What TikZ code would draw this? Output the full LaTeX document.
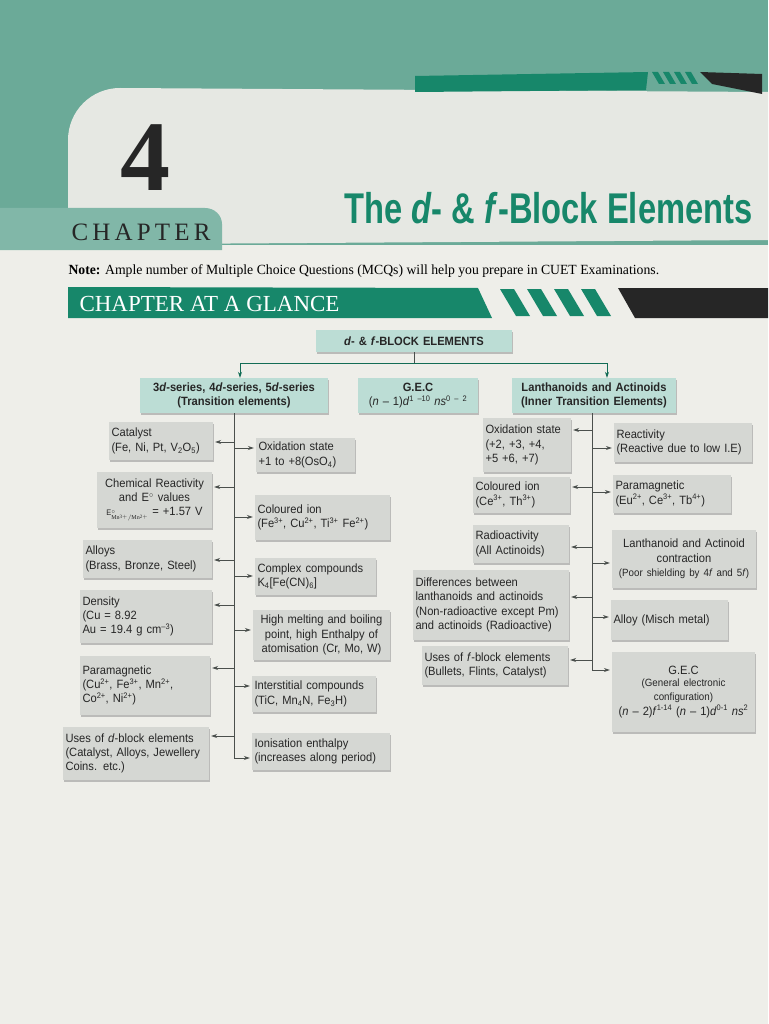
\documentclass[tikz,border=0pt]{standalone}
\usepackage{fontspec}
\setmainfont{Liberation Serif}
\newfontfamily\sff[FakeStretch=0.93,Ligatures=TeX]{Liberation Sans}
\newfontfamily\sfn[Ligatures=TeX]{Liberation Sans}
\usetikzlibrary{arrows.meta,shadows}
\definecolor{teal1}{HTML}{6BAA98}
\definecolor{pagec}{HTML}{EEEEE9}
\definecolor{panel}{HTML}{E6E8E3}
\definecolor{dgreen}{HTML}{17876A}
\definecolor{boxc}{HTML}{D5D7D3}
\definecolor{hboxc}{HTML}{BCDDD5}
\definecolor{linec}{HTML}{4A4F4C}
\tikzset{
 box/.style={fill=boxc,inner sep=2pt,font=\sff\fontsize{12}{14.3}\selectfont,text=black!85,
   drop shadow={shadow xshift=0.8pt,shadow yshift=-1.6pt,fill=black!40,opacity=0.6}},
 hbox/.style={box,fill=hboxc,font=\sff\bfseries\fontsize{12}{14}\selectfont},
 arr/.style={draw=linec,line width=0.7pt,-{Stealth[length=6pt,width=4pt]},shorten >=2pt},
 ln/.style={draw=linec,line width=0.7pt},
 tarr/.style={draw=dgreen!80!black,line width=0.8pt,-{Stealth[length=6pt,width=4pt]}}
}
\newcommand\bx[7][align=left]{\node[#6,#1,minimum width={(#4-#2)*1pt},minimum height={(#5-#3)*1pt},text width={(#4-#2-5)*1pt}] (#7) at ({(#2+#4)/2},{(#3+#5)/2})}
\begin{document}
\begin{tikzpicture}[x=1pt,y=-1pt]
\useasboundingbox (0,0) rectangle (768,1024);
\fill[pagec] (0,0) rectangle (768,1024);
% header
\fill[teal1] (0,0) rectangle (768,245);
\fill[panel] (120,88) -- (768,92) -- (768,240) -- (0,245) -- (0,210) -- (68,210) -- (68,140) to[out=90,in=180] (120,88) -- cycle;
\fill[teal1!85!white] (0,208) -- (205,208) to[out=0,in=90] (222,224) -- (222,250) -- (0,250) -- cycle;
\fill[dgreen] (415,76) -- (648,72) -- (646,90) -- (415,92) -- cycle;
\foreach \i in {0,1,2,3}{\fill[dgreen] ({652+\i*11},72) -- ({658+\i*11},72) -- ({665+\i*11},84) -- ({659+\i*11},84) -- cycle;}
\fill[black!85] (700,72) -- (762,74) -- (762,94) -- (712,84) -- cycle;
\node[font=\fontsize{100}{100}\selectfont\bfseries,text=black!85] (four) at (145,158) {4};
\node[font=\fontsize{25}{25}\selectfont,text=black!85,anchor=west] (chap) at (68,232) {C\,H\,A\,P\,T\,E\,R};
\node[font=\sfn\bfseries\fontsize{43}{43}\selectfont,text=dgreen,anchor=east] (title) at (756,208) {\scalebox{0.76}[1]{The \textit{d}- \& \textit{f}-Block Elements}};
\node[font=\fontsize{14}{16}\selectfont,anchor=west] (note) at (65,271) {\scalebox{0.98}[1]{\textbf{Note:} Ample number of Multiple Choice Questions (MCQs) will help you prepare in CUET Examinations.}};
\fill[dgreen] (68,287) -- (478,288) -- (492,318) -- (68,318) -- cycle;
\foreach \i in {0,1,2,3}{\fill[dgreen] ({500+\i*27},289) -- ({514+\i*27},289) -- ({530+\i*27},316) -- ({516+\i*27},316) -- cycle;}
\fill[black!85] (618,288) -- (768,288) -- (768,318) -- (635,318) -- cycle;
\node[font=\fontsize{23}{23}\selectfont,text=white,anchor=west] (glance) at (76,304) {CHAPTER AT A GLANCE};
% diagram
\bx[align=center]{316}{330}{512}{352}{hbox}{root} {\textit{d}- \& \textit{f}-BLOCK ELEMENTS};
\bx[align=center]{140}{378}{328}{413}{hbox}{td} {3\textit{d}-series, 4\textit{d}-series, 5\textit{d}-series\\(Transition elements)};
\bx[align=center]{358}{378}{478}{413}{hbox}{gec} {G.E.C\\{\mdseries(\textit{n} \textendash{} 1)\textit{d}\textsuperscript{1 \textendash10} \textit{ns}\textsuperscript{0 \textendash{} 2}}};
\bx[align=center]{512}{378}{676}{413}{hbox}{la} {Lanthanoids and Actinoids\\(Inner Transition Elements)};
\coordinate (rj) at (414,363);
\coordinate (lj) at (240,363);
\coordinate (rrj) at (607,363);
\draw[ln] (root.south -| rj) -- (rj);
\draw[ln,draw=dgreen!80!black] (lj) -- (rrj);
\draw[tarr] (lj) -- (td.north -| lj);
\draw[tarr] (rrj) -- (la.north -| rrj);
% left trunk
\coordinate (lt) at (234,413);
\coordinate (lb) at (234,758);
\draw[ln] (lt) -- (lb);
\bx{109}{422}{213}{460}{box}{a1} {Catalyst\\(Fe, Ni, Pt, V\textsubscript{2}O\textsubscript{5})};
\bx[align=center]{97}{472}{212}{528}{box}{a2} {Chemical Reactivity\\and E$^\circ$ values\\{\fontsize{8}{9}\selectfont E$^\circ_{\mathrm{Mn^{3+}/Mn^{2+}}}$} = +1.57 V};
\bx{83}{540}{212}{578}{box}{a3} {Alloys\\(Brass, Bronze, Steel)};
\bx{80}{590}{212}{643}{box}{a4} {Density\\(Cu = 8.92\\Au = 19.4 g cm\textsuperscript{\textendash3})};
\bx{80}{656}{210}{715}{box}{a5} {Paramagnetic\\(Cu\textsuperscript{2+}, Fe\textsuperscript{3+}, Mn\textsuperscript{2+},\\Co\textsuperscript{2+}, Ni\textsuperscript{2+})};
\bx{63}{727}{209}{780}{box}{a6} {Uses of \textit{d}-block elements\\(Catalyst, Alloys, Jewellery\\Coins. etc.)};
\bx{256}{438}{355}{472}{box}{b1} {Oxidation state\\+1 to +8(OsO\textsubscript{4})};
\bx{255}{495}{390}{540}{box}{b2} {Coloured ion\\(Fe\textsuperscript{3+}, Cu\textsuperscript{2+}, Ti\textsuperscript{3+} Fe\textsuperscript{2+})};
\bx{255}{558}{376}{595}{box}{b3} {Complex compounds\\K\textsubscript{4}[Fe(CN)\textsubscript{6}]};
\bx[align=center]{253}{610}{390}{660}{box}{b4} {High melting and boiling\\point, high Enthalpy of\\atomisation (Cr, Mo, W)};
\bx{252}{676}{376}{712}{box}{b5} {Interstitial compounds\\(TiC, Mn\textsubscript{4}N, Fe\textsubscript{3}H)};
\bx{252}{733}{390}{770}{box}{b6} {Ionisation enthalpy\\(increases along period)};
\foreach \n/\y in {a1/442,a2/487,a3/560,a4/605,a5/668,a6/736}{
  \coordinate (c\n) at (234,\y); \draw[arr] (c\n) -- (c\n -| \n.east);}
\foreach \n/\y in {b1/448,b2/517,b3/576,b4/630,b5/686}{
  \coordinate (c\n) at (234,\y); \draw[arr] (c\n) -- (c\n -| \n.west);}
\draw[arr] (lb) -- (lb -| b6.west);
% right trunk
\coordinate (rt) at (592,413);
\coordinate (rb) at (592,670);
\draw[ln] (rt) -- (rb);
\bx{483}{418}{571}{472}{box}{c1} {Oxidation state\\(+2, +3, +4,\\+5 +6, +7)};
\bx{473}{477}{570}{513}{box}{c2} {Coloured ion\\(Ce\textsuperscript{3+}, Th\textsuperscript{3+})};
\bx{473}{525}{569}{563}{box}{c3} {Radioactivity\\(All Actinoids)};
\bx{413}{570}{569}{640}{box}{c4} {Differences between\\lanthanoids and actinoids\\(Non-radioactive except Pm)\\and actinoids (Radioactive)};
\bx{422}{646}{568}{685}{box}{c5} {Uses of \textit{f}-block elements\\(Bullets, Flints, Catalyst)};
\bx{614}{423}{752}{462}{box}{d1} {Reactivity\\(Reactive due to low I.E)};
\bx{613}{475}{731}{513}{box}{d2} {Paramagnetic\\(Eu\textsuperscript{2+}, Ce\textsuperscript{3+}, Tb\textsuperscript{4+})};
\bx[align=center]{612}{530}{756}{588}{box}{d3} {Lanthanoid and Actinoid\\contraction\\{\fontsize{10.5}{12}\selectfont(Poor shielding by 4\textit{f} and 5\textit{f})}};
\bx{611}{600}{728}{640}{box}{d4} {Alloy (Misch metal)};
\bx[align=center]{612}{652}{755}{732}{box}{d5} {G.E.C\\{\fontsize{10.5}{12}\selectfont(General electronic\\configuration)}\\(\textit{n} \textendash{} 2)\textit{f}\textsuperscript{1-14} (\textit{n} \textendash{} 1)\textit{d}\textsuperscript{0-1} \textit{ns}\textsuperscript{2}};
\foreach \n/\y in {c1/430,c2/487,c3/547,c4/597,c5/660}{
  \coordinate (c\n) at (592,\y); \draw[arr] (c\n) -- (c\n -| \n.east);}
\foreach \n/\y in {d1/448,d2/492,d3/563,d4/617}{
  \coordinate (c\n) at (592,\y); \draw[arr] (c\n) -- (c\n -| \n.west);}
\draw[arr] (rb) -- (rb -| d5.west);
\end{tikzpicture}
\end{document}
